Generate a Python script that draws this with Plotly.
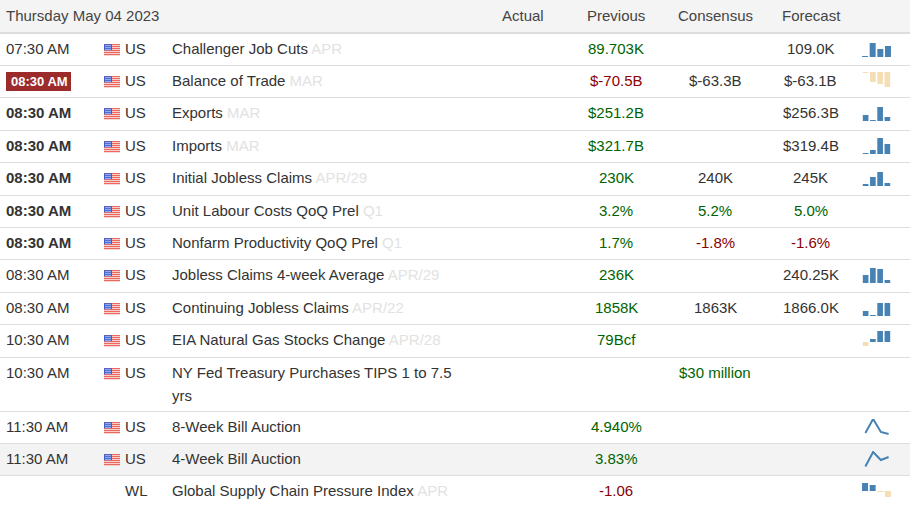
import plotly.graph_objects as go

GREEN = '#006400'
RED = '#8b0000'
DARK = '#333333'
GREY = '#e2e2e2'
BLUE = '#4682b4'
BEIGE = '#f5deb3'

# Table contents
title = 'Thursday May 04 2023'
headers = ['Actual', 'Previous', 'Consensus', 'Forecast']
times = ['07:30 AM', '08:30 AM', '08:30 AM', '08:30 AM', '08:30 AM', '08:30 AM', '08:30 AM',
         '08:30 AM', '08:30 AM', '10:30 AM', '10:30 AM', '11:30 AM', '11:30 AM', '']
time_bold = [False, False, True, True, True, True, True,
             False, False, False, False, False, False, False]
countries = ['US'] * 13 + ['WL']
events = ['Challenger Job Cuts', 'Balance of Trade', 'Exports', 'Imports', 'Initial Jobless Claims',
          'Unit Labour Costs QoQ Prel', 'Nonfarm Productivity QoQ Prel', 'Jobless Claims 4-week Average',
          'Continuing Jobless Claims', 'EIA Natural Gas Stocks Change',
          'NY Fed Treasury Purchases TIPS 1 to 7.5', '8-Week Bill Auction', '4-Week Bill Auction',
          'Global Supply Chain Pressure Index']
periods = ['APR', 'MAR', 'MAR', 'MAR', 'APR/29', 'Q1', 'Q1', 'APR/29', 'APR/22', 'APR/28', '', '', '', 'APR']
previous = ['89.703K', '$-70.5B', '$251.2B', '$321.7B', '230K', '3.2%', '1.7%', '236K', '1858K', '79Bcf',
            '', '4.940%', '3.83%', '-1.06']
previous_color = [GREEN, RED, GREEN, GREEN, GREEN, GREEN, GREEN, GREEN, GREEN, GREEN,
                  DARK, GREEN, GREEN, RED]
consensus = ['', '$-63.3B', '', '', '240K', '5.2%', '-1.8%', '', '1863K', '', '$30 million', '', '', '']
consensus_color = [DARK, DARK, DARK, DARK, DARK, GREEN, RED, DARK, DARK, DARK, GREEN, DARK, DARK, DARK]
forecast = ['109.0K', '$-63.1B', '$256.3B', '$319.4B', '245K', '5.0%', '-1.6%', '240.25K', '1866.0K',
            '', '', '', '', '']
forecast_color = [DARK, DARK, DARK, DARK, DARK, GREEN, RED, DARK, DARK, DARK, DARK, DARK, DARK, DARK]

# Sparklines, row index -> values
spark_bars = {
    0: [1, 14, 8, 11],
    1: [-1, -10, -12, -15],
    2: [6, 1, 14, 4],
    3: [1, 4, 16, 10],
    4: [2, 9, 14, 3],
    7: [8, 15, 14, 3],
    8: [5, 1, 13, 13],
    9: [-4, 3, 11, 11],
    13: [8, 6, -1, -6],
}
spark_lines = {
    11: [2.0, 16.0, 3.0, 1.0],
    12: [0.5, 15.0, 7.0, 10.0],
}
# where the zero line of a sparkline sits below the top of its row
spark_base = {1: 6, 9: 17, 13: 15}
spark_wide = [0, 13]

# Page layout in pixels
W, H = 910, 508
row_tops = [34, 66, 98, 131, 163, 196, 228, 260, 293, 325, 358, 412, 444, 476]
header_x = [523, 616, 715, 811]
col_x = {'time': 6, 'flag': 104, 'country': 125, 'event': 172, 'prev': 616, 'cons': 715, 'fore': 810.5}

fig = go.Figure()
shapes = []
annotations = []


def add_text(x, y, text, anchor='left', color=DARK, size=15):
    annotations.append(dict(x=x, y=y, text=text, xref='x', yref='y', showarrow=False, xanchor=anchor,
                            yanchor='middle', align=anchor, font=dict(color=color, size=size),
                            borderpad=0, borderwidth=0))


def add_rect(x0, y0, x1, y1, color):
    shapes.append(dict(type='rect', xref='x', yref='y', x0=x0, y0=y0, x1=x1, y1=y1,
                       fillcolor=color, line=dict(width=0), layer='below'))


def add_flag(x, y):
    # 16x11 stars and stripes, small and soft like the site icon
    y = y + 0.2
    add_rect(x, y, x + 16, y + 11, '#fbeeee')
    for i in range(0, 11, 2):
        add_rect(x, y + i, x + 16, y + i + 1, '#e8483a')
    add_rect(x, y, x + 8, y + 6, '#3c5fd0')
    for j in range(3):
        add_rect(x + 1, y + 1 + j * 2, x + 7, y + 2 + j * 2, '#a9b9ec')


# Header band and row backgrounds
add_rect(0, 0, W, 32, '#f4f4f4')
add_rect(0, 32, W, 34, '#dddddd')
add_rect(0, 444, W, 476, '#f3f3f3')
for top in row_tops[1:]:
    add_rect(0, top - 1, W, top, '#dddddd')

add_text(6, 15, title, color='#444444')
for x, label in zip(header_x, headers):
    add_text(x, 15, label, anchor='center', color='#444444')

for i in range(len(times)):
    top = row_tops[i]
    yc = top + 14
    if i == 1:
        add_rect(6, top + 6, 71, top + 25, '#9c2b2b')
        add_text(col_x['time'] + 5, yc + 1, '<b>' + times[i] + '</b>', color='#ffffff', size=13)
    elif times[i]:
        label = '<b>' + times[i] + '</b>' if time_bold[i] else times[i]
        add_text(col_x['time'], yc, label)
    if countries[i] == 'US':
        add_flag(col_x['flag'], top + 10)
    add_text(col_x['country'], yc, countries[i])
    label = events[i]
    if periods[i]:
        label += " <span style='color:%s'>%s</span>" % (GREY, periods[i])
    add_text(col_x['event'], yc, label)
    if previous[i]:
        add_text(col_x['prev'], yc, previous[i], anchor='center', color=previous_color[i])
    if consensus[i]:
        add_text(col_x['cons'], yc, consensus[i], anchor='center', color=consensus_color[i])
    if forecast[i]:
        add_text(col_x['fore'], yc, forecast[i], anchor='center', color=forecast_color[i])

# second line of the wrapped event
add_text(col_x['event'], row_tops[10] + 37, 'yrs')

# invisible trace so the page axes exist
fig.add_trace(go.Scatter(x=[0, W], y=[0, H], mode='markers', marker=dict(opacity=0), hoverinfo='skip',
                         showlegend=False))

layout_axes = {
    'xaxis': dict(range=[0, W], visible=False, fixedrange=True),
    'yaxis': dict(range=[H, 0], visible=False, fixedrange=True),
}


def spark_axes(n, row, y_range, left, right):
    # every sparkline gets its own little axes, 1 value unit = 1 pixel
    base = row_tops[row] + spark_base.get(row, 23)
    layout_axes['xaxis%d' % n] = dict(domain=[left / W, right / W], range=[-0.5, 3.5], visible=False,
                                      anchor='y%d' % n, fixedrange=True)
    layout_axes['yaxis%d' % n] = dict(domain=[1 - (base - y_range[0]) / H, 1 - (base - y_range[1]) / H],
                                      range=y_range, visible=False, anchor='x%d' % n, fixedrange=True)


n = 2
for row, vals in spark_bars.items():
    fig.add_trace(go.Bar(x=list(range(4)), y=vals, width=0.78, xaxis='x%d' % n, yaxis='y%d' % n,
                         marker=dict(color=[BLUE if v > 0 else BEIGE for v in vals], line=dict(width=0)),
                         hoverinfo='skip', showlegend=False))
    if row in spark_wide:
        left, right = 861.2, 891.8
    else:
        left, right = 862, 891
    spark_axes(n, row, [min(vals + [0]), max(vals + [0])], left, right)
    n += 1

for row, vals in spark_lines.items():
    fig.add_trace(go.Scatter(x=list(range(4)), y=vals, mode='lines', line=dict(color=BLUE, width=2),
                             xaxis='x%d' % n, yaxis='y%d' % n, hoverinfo='skip', showlegend=False,
                             cliponaxis=False))
    spark_axes(n, row, [0, 16], 861.5, 892.5)
    n += 1

fig.update_layout(
    width=W, height=H,
    margin=dict(l=0, r=0, t=0, b=0),
    paper_bgcolor='white',
    plot_bgcolor='rgba(0,0,0,0)',
    showlegend=False,
    barmode='overlay',
    font=dict(family='Liberation Sans, Arial, sans-serif', size=15, color=DARK),
    shapes=shapes,
    annotations=annotations,
    **layout_axes,
)

fig.write_html('out.html', config=dict(displayModeBar=False),
               post_script="document.body.style.margin='0';document.body.style.overflow='hidden';")
